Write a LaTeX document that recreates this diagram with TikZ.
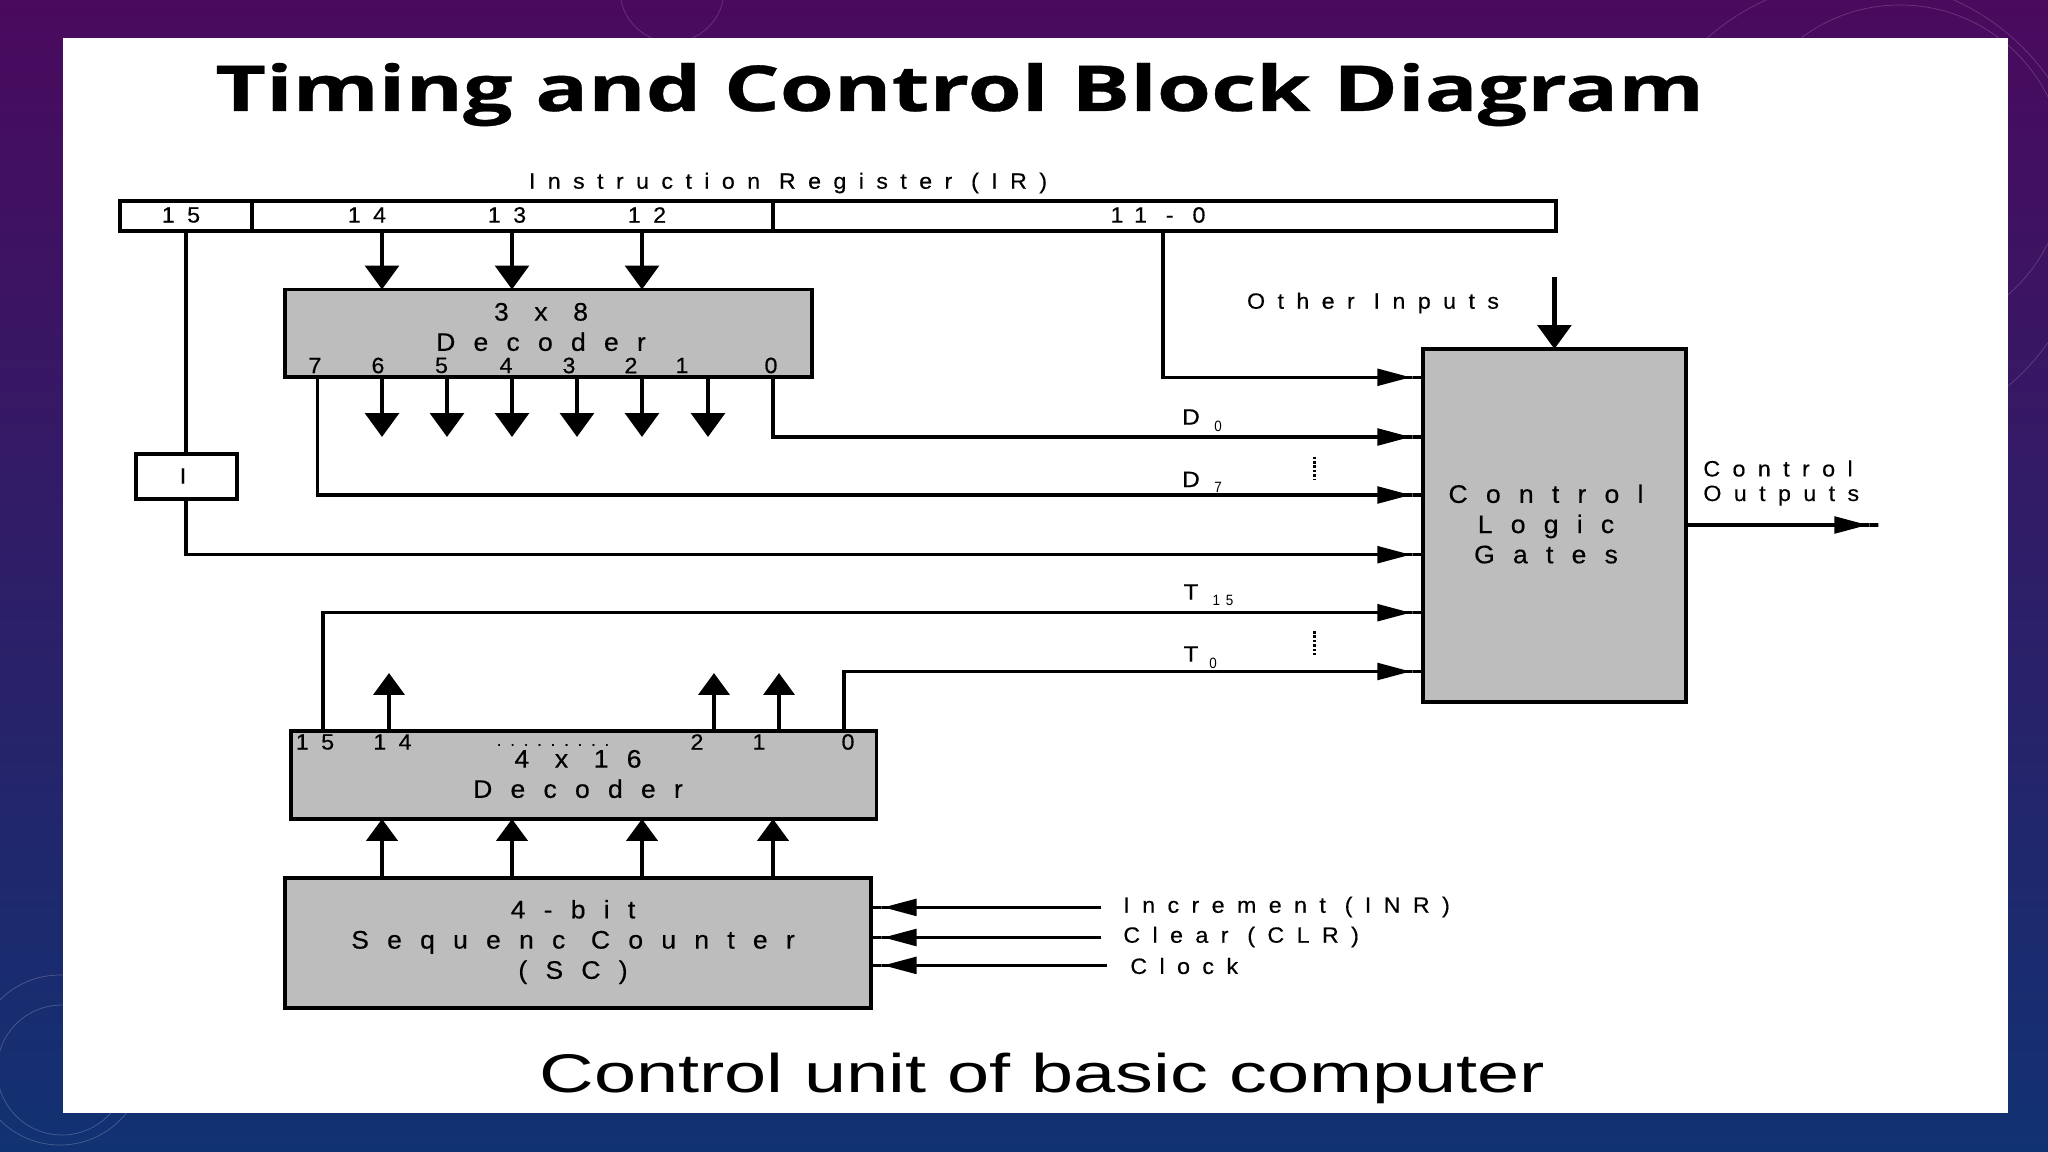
\documentclass[tikz,border=0pt]{standalone}
\usepackage{fontspec}
\usetikzlibrary{arrows.meta}
\setmainfont{Liberation Sans}
\newfontfamily\tagfont[LetterSpace=56,FakeStretch=1.05,FakeBold=0.4]{Liberation Sans}
\newfontfamily\boxfont[LetterSpace=72,FakeStretch=1.05,FakeBold=0.4]{Liberation Sans}
\newfontfamily\subfont[LetterSpace=40,FakeStretch=0.9]{Liberation Sans}
\newfontfamily\sigfont[FakeStretch=1.1,FakeBold=0.8]{Liberation Sans}
\newfontfamily\titlefont[FakeStretch=1.385,BoldFeatures={FakeBold=0.5}]{Open Sans}
\newfontfamily\capfont[FakeStretch=1.39]{Liberation Sans}
\definecolor{gris}{HTML}{BDBDBD}
\definecolor{morado}{HTML}{4A0A5E}
\definecolor{malva}{HTML}{33196A}
\definecolor{marino}{HTML}{113272}
\tikzset{
    block/.style={draw=black,line width=2.2pt,fill=gris,inner sep=0,outer sep=0,anchor=north west},
    cell/.style={draw=black,line width=2.2pt,fill=white,inner sep=0,outer sep=0,anchor=north west},
    tag/.style={inner sep=0,font=\tagfont\fontsize{12.6}{14}\selectfont},
    boxtext/.style={inner sep=0,align=center,font=\boxfont\fontsize{14.4}{17.2}\selectfont},
    sig/.style={inner sep=0,font=\sigfont\fontsize{12.6}{14}\selectfont},
    subsig/.style={inner sep=0,font=\subfont\fontsize{8.5}{10}\selectfont},
    wire/.style={line width=1.9pt},
    bus/.style={line width=2.7pt,-{Triangle[length=13.6pt,width=19pt]}},
    busup/.style={line width=2.7pt,-{Triangle[length=12.5pt,width=17.5pt]}},
    feed/.style={line width=1.9pt,-{Triangle[length=19pt,width=9.5pt]Rectangle[length=7pt,width=1.9pt]}},
    vdots/.style={line width=1.8pt,dash pattern=on 1.5pt off 1pt},
}
\begin{document}
\begin{tikzpicture}[x=0.02cm,y=-0.02cm]
    \useasboundingbox (0,0) rectangle (2048,1152);
    % ---- Fondo ----
    \shade[top color=morado,middle color=malva,bottom color=marino] (0,0) rectangle (2048,1152);
    \draw[white,opacity=0.18,thin] (672,-10) circle (52);
    \draw[white,opacity=0.18,thin] (1900,170) circle (165);
    \draw[white,opacity=0.18,thin] (1860,210) circle (230);
    \draw[white,opacity=0.22,thin] (60,1060) circle (85);
    \draw[white,opacity=0.22,thin] (62,1070) circle (65);
    \fill[white] (63,38) rectangle (2008,1113);

    % ---- Titulos ----
    \node[anchor=base west,inner sep=0,font=\titlefont\bfseries\fontsize{36}{40}\selectfont] (title) at (215,111) {Timing and Control Block Diagram};
    \node[anchor=base west,inner sep=0,font=\capfont\fontsize{31}{36}\selectfont] (caption) at (539,1092) {Control unit of basic computer};

    % ---- Registro ----
    \node[tag] (irname) at (788,183) {Instruction Register (IR)};
    \node[cell,minimum width=2.64cm,minimum height=0.6cm] (ir15) at (120,201) {};
    \node[cell,minimum width=10.42cm,minimum height=0.6cm] (ir14) at (252,201) {};
    \node[cell,minimum width=15.66cm,minimum height=0.6cm] (ir11) at (773,201) {};
    \node[tag] (lab15) at (181,215) {15};
    \node[tag] (lab14) at (367,215) {14};
    \node[tag] (lab13) at (507,215) {13};
    \node[tag] (lab12) at (647,215) {12};
    \node[tag] (lab11) at (1158,215) {11 - 0};

    % ---- Bloques ----
    \node[block,minimum width=10.54cm,minimum height=1.75cm] (dec3) at (285,289.5) {};
    \node[block,minimum width=5.26cm,minimum height=7.06cm] (logic) at (1423,349) {};
    \node[block,minimum width=11.72cm,minimum height=1.75cm] (dec4) at (290.6,731.4) {};
    \node[block,minimum width=11.72cm,minimum height=2.6cm] (sc) at (285,878) {};
    \node[cell,minimum width=2.02cm,minimum height=0.91cm] (ibit) at (136,453.7) {};
    \node[inner sep=0,font=\tagfont\fontsize{12.6}{14}\selectfont] (ilab) at (183,476) {I};

    \node[boxtext] (dec3txt) at (541,327) {3 x 8\\Decoder};
    \node[boxtext] (logictxt) at (1546,524) {Control\\Logic\\Gates};
    \node[boxtext] (dec4txt) at (578,774) {4 x 16\\Decoder};
    \node[boxtext] (sctxt) at (573,942) {4-bit\\Sequenc Counter\\(SC)};

    \foreach \n/\x in {7/315,6/378,5/441.5,4/506,3/569,2/631,1/682,0/771}
        \node[tag] (d\n) at (\x,365.5) {\n};
    \foreach \n/\m/\x in {15/15/315,14/14/392.5,2/2/697,1/1/759,0/0/848}
        \node[tag] (t\n) at (\x,742) {\m};
    \node[inner sep=0,font=\tagfont\fontsize{9}{10}\selectfont] (dots) at (553,745) {.........};

    % ---- Entradas del decodificador 3x8 ----
    \foreach \x in {382,512,642}
        \draw[bus] (\x,0 |- ir14.south) -- (\x,0 |- dec3.north);
    \foreach \x in {382,447,512,577,642,708} {
        \coordinate (out\x) at (\x,437);
        \draw[bus] (\x,0 |- dec3.south) -- (out\x);
    }

    % ---- Contador y decodificador 4x16 ----
    \foreach \x in {382,512,642,773}
        \draw[busup] (\x,0 |- sc.north) -- (\x,0 |- dec4.south);
    \foreach \x in {389,714,779} {
        \coordinate (up\x) at (\x,673);
        \draw[busup] (\x,0 |- dec4.north) -- (up\x);
    }

    % ---- Lineas a la logica de control ----
    \draw[wire] (186,0 |- ir15.south) -- (186,0 |- ibit.north);
    \draw[feed] (186,0 |- ibit.south) |- (logic.west |- 0,554.7);
    \draw[feed] (1163,0 |- ir11.south) |- (logic.west |- 0,377.3);
    \draw[feed] (773,0 |- dec3.south) |- (logic.west |- 0,437);
    \draw[feed] (317.5,0 |- dec3.south) |- (logic.west |- 0,495);
    \draw[feed] (323,0 |- dec4.north) |- (logic.west |- 0,612.7);
    \draw[feed] (844,0 |- dec4.north) |- (logic.west |- 0,671.5);

    \coordinate (othin) at (1554.4,277.4);
    \draw[bus] (othin) -- (othin |- logic.north);
    \node[tag] (other) at (1373,303) {Other Inputs};

    \coordinate (ctrlout) at (1880,525);
    \draw[feed] (logic.east |- ctrlout) -- (ctrlout);
    \node[tag,align=left,anchor=west] (ctrllab) at (1703,483) {Control\\Outputs};

    % ---- Etiquetas D y T ----
    \node[sig] (d0lab) at (1191,417) {D};
    \node[subsig] (d0sub) at (1218,426) {0};
    \node[sig] (d7lab) at (1191,479.4) {D};
    \node[subsig] (d7sub) at (1218,487) {7};
    \node[sig] (t15lab) at (1191,592) {T};
    \node[subsig] (t15sub) at (1223,600.6) {15};
    \node[sig] (t0lab) at (1191,654) {T};
    \node[subsig] (t0sub) at (1213,663) {0};
    \coordinate (da) at (1314.7,456.6);
    \coordinate (db) at (1314.7,480);
    \coordinate (ta) at (1314.7,631);
    \coordinate (tb) at (1314.7,655);
    \draw[vdots] (da) -- (db);
    \draw[vdots] (ta) -- (tb);

    % ---- Entradas del contador ----
    \node[tag,anchor=west] (inr) at (1123,907) {Increment (INR)};
    \node[tag,anchor=west] (clr) at (1123,937) {Clear (CLR)};
    \node[tag,anchor=west] (clk) at (1130,966) {Clock};
    \draw[feed] (1101,907.4) coordinate (inrend) -- (sc.east |- inrend);
    \draw[feed] (1101,937.5) coordinate (clrend) -- (sc.east |- clrend);
    \draw[feed] (1107,965.4) coordinate (clkend) -- (sc.east |- clkend);

\end{tikzpicture}
\end{document}
